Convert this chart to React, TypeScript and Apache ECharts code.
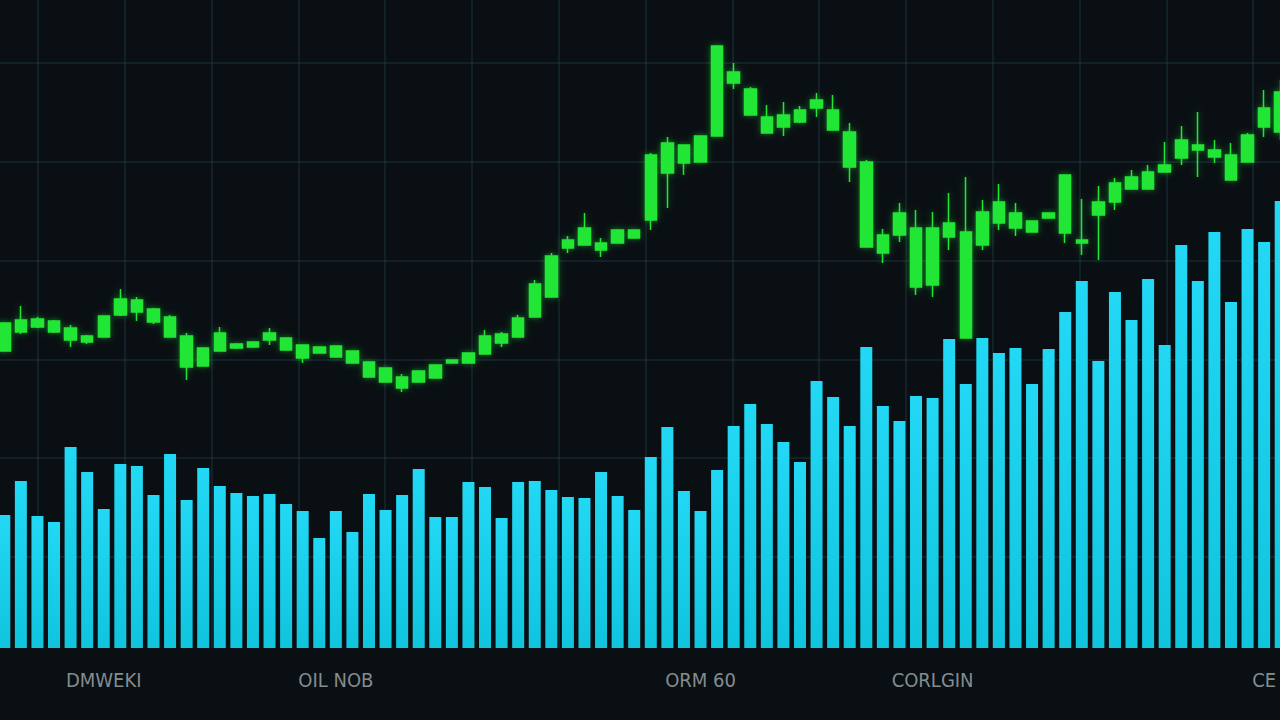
import React, { useEffect, useRef } from 'react';
import * as echarts from 'echarts';

// 78 trading sessions
const categories: string[] = Array.from({ length: 78 }, (_, i) => 'S' + (i + 1));

// Bottom axis labels and the session each sits under
const tickLabels = ['DMWEKI', 'OIL NOB', 'ORM 60', 'CORLGIN', 'CE'];
const tickIndices = [6, 20, 42, 56, 76];

// [open, close, low, high]
const ohlc: number[][] = [
  [29.7, 32.5, 29.7, 32.5], [31.6, 32.8, 31.4, 34.2], [32.1, 32.9, 32.0, 33.1], [31.6, 32.7, 31.5, 32.8],
  [30.8, 32.0, 30.1, 32.3], [30.6, 31.2, 30.4, 31.3], [31.1, 33.2, 31.1, 33.2], [33.3, 34.9, 33.2, 35.9],
  [33.6, 34.8, 32.7, 35.1], [32.6, 33.9, 32.4, 34.0], [31.1, 33.1, 31.1, 33.3], [28.1, 31.2, 26.8, 31.5],
  [28.2, 30.0, 28.2, 30.0], [29.7, 31.5, 29.7, 32.1], [30.0, 30.4, 29.9, 30.5], [30.1, 30.6, 30.1, 30.6],
  [30.8, 31.5, 30.3, 32.0], [29.8, 31.0, 29.8, 31.0], [29.0, 30.3, 28.5, 30.3], [29.5, 30.1, 29.5, 30.1],
  [29.1, 30.2, 29.1, 30.2], [28.5, 29.7, 28.5, 29.7], [27.1, 28.6, 27.1, 28.6], [26.6, 28.0, 26.6, 28.0],
  [26.0, 27.1, 25.6, 27.4], [26.6, 27.7, 26.6, 27.7], [27.0, 28.3, 27.0, 28.3], [28.5, 28.8, 28.5, 28.8],
  [28.5, 29.5, 28.5, 29.5], [29.4, 31.2, 29.4, 31.8], [30.5, 31.4, 30.1, 31.6], [31.1, 33.0, 31.1, 33.3],
  [33.1, 36.4, 33.1, 36.8], [35.1, 39.2, 35.1, 39.5], [40.0, 40.8, 39.5, 41.2], [40.3, 42.0, 40.3, 43.5],
  [39.8, 40.5, 39.1, 41.0], [40.5, 41.8, 40.5, 41.8], [41.0, 41.8, 41.0, 41.8], [42.8, 49.3, 41.8, 49.5],
  [47.5, 50.5, 44.0, 51.1], [48.5, 50.3, 47.3, 50.3], [48.6, 51.2, 48.6, 51.2], [51.2, 60.2, 51.2, 60.2],
  [56.5, 57.6, 55.9, 58.5], [53.3, 55.9, 53.3, 56.1], [51.5, 53.1, 51.5, 54.3], [52.1, 53.3, 51.2, 54.6],
  [52.6, 53.8, 52.5, 54.2], [54.0, 54.8, 53.1, 55.5], [51.8, 53.8, 51.8, 55.3], [48.1, 51.6, 46.6, 52.5],
  [40.1, 48.6, 40.1, 48.8], [39.5, 41.3, 38.5, 41.9], [41.3, 43.5, 40.6, 44.5], [36.1, 42.0, 35.3, 43.8],
  [36.3, 42.0, 35.1, 43.6], [41.1, 42.5, 39.8, 45.5], [31.0, 41.6, 31.0, 47.1], [40.3, 43.6, 39.8, 44.8],
  [42.5, 44.6, 41.8, 46.4], [42.0, 43.5, 41.2, 44.5], [41.6, 42.7, 41.6, 42.7], [43.0, 43.5, 43.0, 43.5],
  [41.5, 47.3, 40.5, 47.3], [40.5, 40.8, 39.3, 44.9], [43.3, 44.6, 38.8, 46.2], [44.6, 46.5, 43.8, 47.0],
  [45.9, 47.1, 45.9, 47.8], [45.9, 47.6, 45.9, 48.3], [47.6, 48.3, 47.6, 50.6], [49.0, 50.8, 48.3, 52.2],
  [49.8, 50.3, 47.1, 53.6], [49.1, 49.8, 48.5, 50.8], [46.8, 49.3, 46.8, 50.5], [48.6, 51.3, 48.6, 51.5],
  [52.1, 54.0, 51.1, 55.8], [51.6, 55.6, 50.8, 56.8],
];

const volumes: number[] = [
  133, 167, 132, 126, 201, 176, 139, 184, 182, 153, 194, 148, 180, 162, 155, 152, 154, 144, 137, 110,
  137, 116, 154, 138, 153, 179, 131, 131, 166, 161, 130, 166, 167, 158, 151, 150, 176, 152, 138,
  191, 221, 157, 137, 178, 222, 244, 224, 206, 186, 267, 251, 222, 301, 242, 227, 252, 250, 309,
  264, 310, 295, 300, 264, 299, 336, 367, 287, 356, 328, 369, 303, 403, 367, 416, 346, 419, 406, 447,
];

const GREEN = '#22e634';
const GRID_LINE = 'rgba(32,62,74,0.38)';

export default function App() {
  const ref = useRef<HTMLDivElement>(null);

  useEffect(() => {
    const chart = echarts.init(ref.current!, null, { renderer: 'svg' });
    const hiddenAxis = {
      axisLine: { show: false },
      axisTick: { show: false },
      axisLabel: { show: false },
      splitLine: { show: false },
    };
    chart.setOption({
      animation: false,
      backgroundColor: '#0a0f13',
      grid: [
        { left: -4, width: 1293, top: 0, height: 648, outerBoundsMode: 'none', containLabel: false },
        { left: 0, width: 1280, top: -35.75, height: 592.5, outerBoundsMode: 'none', containLabel: false },
        { left: -48.8, width: 1388.8, top: 0, height: 648, outerBoundsMode: 'none', containLabel: false },
      ],
      xAxis: [
        {
          gridIndex: 0,
          type: 'category',
          data: categories,
          boundaryGap: true,
          axisLine: { show: false },
          axisTick: { show: false },
          splitLine: { show: false },
          axisLabel: {
            interval: 0,
            margin: 22,
            color: '#848c90',
            fontSize: 20,
            fontFamily: '"DejaVu Sans Condensed", "Liberation Sans Narrow", sans-serif',
            formatter: (_v: string, idx: number) => {
              const k = tickIndices.indexOf(idx);
              return k >= 0 ? tickLabels[k] : '';
            },
          },
        },
        { gridIndex: 1, type: 'value', min: 0, max: 1, ...hiddenAxis },
        {
          gridIndex: 2,
          type: 'value',
          min: 0,
          max: 16,
          interval: 1,
          axisLine: { show: false },
          axisTick: { show: false },
          axisLabel: { show: false },
          splitLine: { show: true, lineStyle: { color: GRID_LINE, width: 2 } },
        },
      ],
      yAxis: [
        { gridIndex: 0, type: 'value', min: 0, max: 64.8, ...hiddenAxis },
        { gridIndex: 0, type: 'value', min: 0, max: 648, ...hiddenAxis },
        {
          gridIndex: 1,
          type: 'value',
          min: 1,
          max: 7,
          interval: 1,
          axisLine: { show: false },
          axisTick: { show: false },
          axisLabel: { show: false },
          splitLine: { show: true, lineStyle: { color: GRID_LINE, width: 2 } },
        },
        { gridIndex: 2, type: 'value', min: 0, max: 1, ...hiddenAxis },
      ],
      series: [
        {
          name: 'Volume',
          type: 'bar',
          xAxisIndex: 0,
          yAxisIndex: 1,
          data: volumes,
          barWidth: 12,
          itemStyle: {
            color: new echarts.graphic.LinearGradient(0, 0, 0, 1, [
              { offset: 0, color: '#22d8f4' },
              { offset: 1, color: '#10c4de' },
            ]),
          },
        },
        {
          name: 'Price',
          type: 'candlestick',
          xAxisIndex: 0,
          yAxisIndex: 0,
          data: ohlc,
          barWidth: 12,
          itemStyle: {
            color: GREEN,
            color0: GREEN,
            borderColor: GREEN,
            borderColor0: GREEN,
            borderWidth: 1.5,
            shadowBlur: 6,
            shadowColor: 'rgba(40,255,60,0.45)',
          },
        },
      ],
    });
    return () => chart.dispose();
  }, []);

  return (
    <div
      ref={ref}
      style={{ position: 'fixed', left: 0, top: 0, width: 1280, height: 720, background: '#0a0f13' }}
    />
  );
}
